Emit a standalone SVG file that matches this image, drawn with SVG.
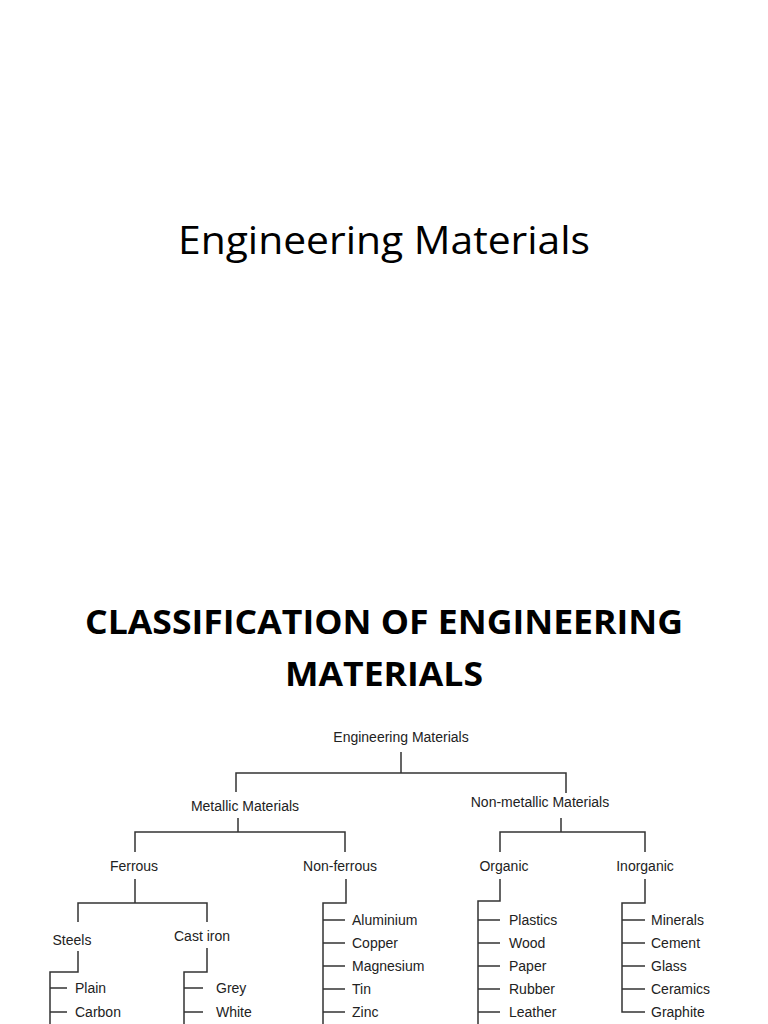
<svg xmlns="http://www.w3.org/2000/svg" width="768" height="1024" viewBox="0 0 768 1024">
<style>
.t{font-family:"Liberation Sans",Arial,sans-serif;font-size:14px;fill:#222}
.m{text-anchor:middle}
.h{font-family:"Open Sans","Liberation Sans",sans-serif;fill:#000;text-anchor:middle}
#connectors path{fill:none;stroke:#333;stroke-width:1.5}
</style>
<rect width="768" height="1024" fill="#fff"/>
<text class="h" x="384" y="254" font-size="38" textLength="412" lengthAdjust="spacingAndGlyphs">Engineering Materials</text>
<text class="h" x="384" y="634" font-size="34" font-weight="bold" textLength="598" lengthAdjust="spacingAndGlyphs">CLASSIFICATION OF ENGINEERING</text>
<text class="h" x="384" y="686" font-size="34" font-weight="bold" textLength="198" lengthAdjust="spacingAndGlyphs">MATERIALS</text>
<g id="connectors">
<path d="M401 752V773M236 792V773H566V793"/>
<path d="M238 818V832M135 852V832H345V852"/>
<path d="M561 818V832M500 852V832H645V852"/>
<path d="M135 879V903M78 922V903H207V922"/>
<path d="M78 951V972H50V1024M50 988H67M50 1012H67"/>
<path d="M207 948V972H184V1024M184 988H203M184 1012H203"/>
<path d="M346 879V903H323V1024M323 920H345M323 943H345M323 966H345M323 989H345M323 1012H345"/>
<path d="M500 879V901H478V1024M478 920H500M478 943H500M478 966H500M478 989H500M478 1012H500"/>
<path d="M645 879V903H622V1012H645M622 920H645M622 943H645M622 966H645M622 989H645"/>
</g>
<g id="root"><text class="t m" x="401" y="742">Engineering Materials</text></g>
<g id="metallic"><text class="t m" x="245" y="811">Metallic Materials</text></g>
<g id="nonmetallic"><text class="t m" x="540" y="807">Non-metallic Materials</text></g>
<g id="ferrous"><text class="t m" x="134" y="871">Ferrous</text></g>
<g id="nonferrous"><text class="t m" x="340" y="871">Non-ferrous</text></g>
<g id="organic"><text class="t m" x="504" y="871">Organic</text></g>
<g id="inorganic"><text class="t m" x="645" y="871">Inorganic</text></g>
<g id="steels"><text class="t m" x="72" y="945">Steels</text></g>
<g id="castiron"><text class="t m" x="202" y="941">Cast iron</text></g>
<g id="steel-items"><text class="t" x="75" y="993">Plain</text><text class="t" x="75" y="1017">Carbon</text></g>
<g id="castiron-items"><text class="t" x="216" y="993">Grey</text><text class="t" x="216" y="1017">White</text></g>
<g id="nonferrous-items"><text class="t" x="352" y="925">Aluminium</text><text class="t" x="352" y="948">Copper</text><text class="t" x="352" y="971">Magnesium</text><text class="t" x="352" y="994">Tin</text><text class="t" x="352" y="1017">Zinc</text></g>
<g id="organic-items"><text class="t" x="509" y="925">Plastics</text><text class="t" x="509" y="948">Wood</text><text class="t" x="509" y="971">Paper</text><text class="t" x="509" y="994">Rubber</text><text class="t" x="509" y="1017">Leather</text></g>
<g id="inorganic-items"><text class="t" x="651" y="925">Minerals</text><text class="t" x="651" y="948">Cement</text><text class="t" x="651" y="971">Glass</text><text class="t" x="651" y="994">Ceramics</text><text class="t" x="651" y="1017">Graphite</text></g>
</svg>
